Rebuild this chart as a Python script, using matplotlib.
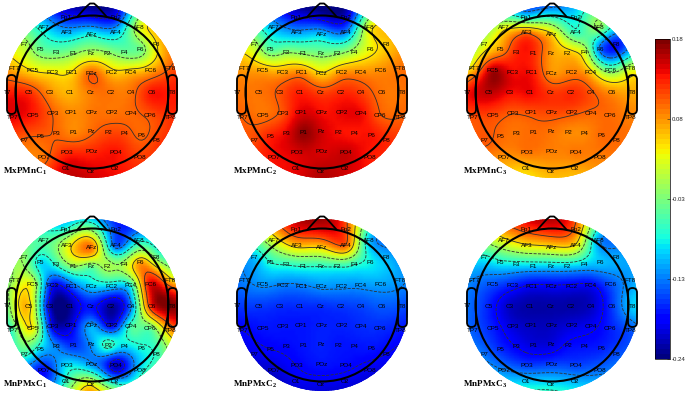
import matplotlib
matplotlib.use('Agg')
import matplotlib.pyplot as plt
import numpy as np
from matplotlib.patches import Circle, FancyBboxPatch

plt.rcParams['font.family'] = ['Liberation Sans', 'DejaVu Sans']
plt.rcParams['mathtext.fontset'] = 'custom'
plt.rcParams['mathtext.bf'] = 'Liberation Serif:bold'

W, H = 685, 398

names = ['Fp1', 'Fp2',
         'AF7', 'AF3', 'AFz', 'AF4', 'AF8',
         'F7', 'F5', 'F3', 'F1', 'Fz', 'F2', 'F4', 'F6', 'F8',
         'FT7', 'FC5', 'FC3', 'FC1', 'FCz', 'FC2', 'FC4', 'FC6', 'FT8',
         'T7', 'C5', 'C3', 'C1', 'Cz', 'C2', 'C4', 'C6', 'T8',
         'TP7', 'CP5', 'CP3', 'CP1', 'CPz', 'CP2', 'CP4', 'CP6', 'TP8',
         'P7', 'P5', 'P3', 'P1', 'Pz', 'P2', 'P4', 'P6', 'P8',
         'PO7', 'PO3', 'POz', 'PO4', 'PO8',
         'O1', 'Oz', 'O2']

# electrode montage, thirds of a pixel from the head centre
elec_x = np.array([-77, 71,
                   -144, -77, -2, 73, 141,
                   -202, -156, -107, -57, -3, 46, 97, 146, 193,
                   -235, -177, -119, -60, -1, 58, 117, 175, 233,
                   -252, -189, -128, -67, -5, 56, 117, 180, 241,
                   -237, -177, -119, -62, -1, 58, 117, 175, 235,
                   -202, -156, -107, -57, -3, 48, 97, 147, 193,
                   -144, -77, 0, 73, 143,
                   -79, -5, 68]) / 3
elec_y = np.array([225, 225,
                   193, 178, 173, 178, 193,
                   142, 127, 120, 115, 115, 115, 120, 127, 142,
                   72, 63, 59, 57, 55, 57, 59, 63, 72,
                   -1, -3, -3, -3, -3, -3, -3, -3, -3,
                   -77, -70, -65, -62, -62, -62, -65, -70, -77,
                   -147, -133, -125, -121, -119, -121, -125, -131, -147,
                   -197, -182, -178, -182, -197,
                   -230, -238, -230]) / 3

mx_c1 = [-0.18, -0.19,
         -0.09, -0.11, -0.08, -0.10, 0.02,
         0.0, -0.04, -0.04, -0.02, 0.0, -0.01, -0.04, -0.04, 0.04,
         0.06, 0.042, 0.04, 0.045, 0.105, 0.055, 0.06, 0.07, 0.10,
         0.13, 0.125, 0.08, 0.06, 0.085, 0.09, 0.09, 0.135, 0.13,
         0.14, 0.13, 0.10, 0.08, 0.09, 0.09, 0.095, 0.105, 0.12,
         0.095, 0.10, 0.098, 0.08, 0.095, 0.11, 0.11, 0.095, 0.115,
         0.09, 0.125, 0.125, 0.135, 0.115,
         0.15, 0.145, 0.135]
mx_c2 = [-0.19, -0.21,
         -0.11, -0.12, -0.10, -0.13, 0.03,
         0.0, -0.05, -0.02, -0.02, -0.03, -0.02, 0.0, 0.03, 0.05,
         0.07, 0.07, 0.07, 0.085, 0.045, 0.08, 0.08, 0.08, 0.09,
         0.09, 0.09, 0.105, 0.13, 0.115, 0.125, 0.115, 0.09, 0.09,
         0.10, 0.09, 0.105, 0.145, 0.135, 0.14, 0.14, 0.10, 0.10,
         0.11, 0.13, 0.14, 0.175, 0.15, 0.135, 0.13, 0.135, 0.125,
         0.135, 0.145, 0.145, 0.155, 0.13,
         0.14, 0.16, 0.15]
mx_c3 = [-0.09, -0.09,
         0.03, 0.10, 0.05, -0.07, -0.01,
         0.02, 0.07, 0.125, 0.125, 0.07, 0.06, 0.02, -0.15, -0.19,
         0.05, 0.17, 0.135, 0.135, 0.075, 0.085, 0.055, -0.03, 0.01,
         0.135, 0.155, 0.135, 0.14, 0.12, 0.125, 0.105, 0.08, 0.065,
         0.105, 0.11, 0.10, 0.105, 0.11, 0.105, 0.095, 0.095, 0.085,
         0.105, 0.095, 0.09, 0.095, 0.09, 0.08, 0.08, 0.095, 0.095,
         0.075, 0.09, 0.085, 0.09, 0.085,
         0.05, 0.065, 0.065]
mn_c1 = [-0.07, -0.16,
         -0.05, 0.02, 0.10, -0.16, -0.08,
         -0.02, -0.10, -0.07, -0.02, -0.05, 0.0, 0.0, 0.08, -0.03,
         -0.01, 0.02, -0.19, -0.15, -0.10, -0.10, -0.08, 0.15, 0.06,
         -0.03, 0.06, -0.21, -0.23, -0.18, -0.23, -0.14, 0.14, 0.18,
         -0.06, 0.04, -0.20, -0.20, -0.11, -0.20, -0.05, -0.05, 0.07,
         -0.06, -0.10, -0.13, -0.17, -0.13, -0.05, -0.10, -0.08, -0.07,
         -0.19, -0.09, -0.13, -0.23, -0.09,
         -0.07, 0.04, -0.09]
mn_c2 = [0.13, 0.11,
         0.02, 0.055, 0.045, 0.10, -0.11,
         -0.11, -0.075, -0.075, -0.075, -0.075, -0.075, -0.075, -0.085, -0.11,
         -0.135, -0.125, -0.135, -0.135, -0.125, -0.125, -0.125, -0.12, -0.125,
         -0.165, -0.165, -0.17, -0.17, -0.17, -0.165, -0.16, -0.15, -0.155,
         -0.19, -0.18, -0.18, -0.18, -0.175, -0.175, -0.17, -0.17, -0.18,
         -0.20, -0.19, -0.185, -0.18, -0.175, -0.18, -0.18, -0.18, -0.19,
         -0.21, -0.19, -0.18, -0.185, -0.20,
         -0.20, -0.20, -0.20]
mn_c3 = [0.11, 0.09,
         0.03, 0.035, 0.035, 0.035, -0.13,
         -0.085, -0.085, -0.095, -0.105, -0.105, -0.105, -0.105, -0.105, -0.115,
         -0.135, -0.155, -0.175, -0.195, -0.195, -0.195, -0.195, -0.155, -0.125,
         -0.14, -0.175, -0.215, -0.225, -0.225, -0.225, -0.215, -0.165, -0.10,
         -0.15, -0.175, -0.205, -0.215, -0.215, -0.205, -0.195, -0.175, -0.155,
         -0.14, -0.17, -0.19, -0.205, -0.205, -0.185, -0.18, -0.175, -0.155,
         -0.13, -0.16, -0.16, -0.16, -0.14,
         -0.10, -0.09, -0.11]

titles = ['MxPMnC', 'MxPMnC', 'MxPMnC', 'MnPMxC', 'MnPMxC', 'MnPMxC']
subs = ['1', '2', '3', '1', '2', '3']
panels = [mx_c1, mx_c2, mx_c3, mn_c1, mn_c2, mn_c3]
centres = [(92, 92), (322, 92), (552, 92), (92, 305), (322, 305), (552, 305)]

vmin, vmax = -0.24, 0.18
cbar_ticks = np.linspace(vmin, vmax, 5)
cbar_labels = ['-0.24', '-0.13', '-0.03', '0.08', '0.18']
contour_levels = [-0.19, -0.132, -0.074, -0.016, 0.042, 0.10]


def smooth_map(x, y, v, xi, yi):
    # thin plate spline with a linear term so the rim does not run away
    n = len(x)
    d = np.hypot(x[:, None] - x[None, :], y[:, None] - y[None, :])
    k = np.where(d > 0, d ** 2 * np.log(d + (d == 0)), 0.0)
    k = k + np.eye(n) * 20.0
    p = np.column_stack([np.ones(n), x, y])
    a = np.block([[k, p], [p.T, np.zeros((3, 3))]])
    sol = np.linalg.solve(a, np.concatenate([v, np.zeros(3)]))
    r = np.hypot(xi[..., None] - x, yi[..., None] - y)
    gi = np.where(r > 0, r ** 2 * np.log(r + (r == 0)), 0.0)
    return (gi * sol[:n]).sum(axis=-1) + sol[n] + sol[n + 1] * xi + sol[n + 2] * yi


fig = plt.figure(figsize=(W / 100, H / 100), dpi=100)
gx = np.linspace(-87, 87, 67)
xi, yi = np.meshgrid(gx, gx)

for vals, (cx, cy), title, sub in zip(panels, centres, titles, subs):
    half = 95
    ax = fig.add_axes([(cx - half) / W, 1 - (cy + half) / H, 2 * half / W, 2 * half / H])
    ax.set_xlim(-half, half)
    ax.set_ylim(-half, half)
    ax.axis('off')

    zi = smooth_map(elec_x, elec_y, np.array(vals), xi, yi)
    disc = Circle((0, 0), 86, transform=ax.transData)
    mesh = ax.pcolormesh(xi, yi, zi, cmap='jet', vmin=vmin, vmax=vmax, shading='gouraud')
    mesh.set_clip_path(disc)
    cs = ax.contour(xi, yi, zi, levels=contour_levels, colors='#303030', linewidths=0.6)
    cs.set_clip_path(disc)

    ax.add_patch(Circle((0, 0), 76.5, fill=False, ec='black', lw=1.5, zorder=5))
    ax.plot([-14, -5, -2, 2, 5, 14], [76, 86, 88.5, 88.5, 86, 76], color='black', lw=1.3, zorder=5)
    for left in (-85, 76):
        ax.add_patch(FancyBboxPatch((left, -22), 9, 39, boxstyle='round,pad=0,rounding_size=4.5',
                                    fill=False, ec='black', lw=1.3, zorder=5))

    for name, ex, ey in zip(names, elec_x, elec_y):
        ax.text(ex, ey, name, fontsize=4.6, ha='center', va='center', color='black', zorder=6)

    ax.text(-89, -79, r'%s$_{\mathbf{%s}}$' % (title, sub), fontsize=6.6, family='Liberation Serif',
            fontweight='bold', ha='left', va='center', color='black', zorder=7, clip_on=False)

cax = fig.add_axes([655 / W, 1 - 359 / H, 15 / W, 320 / H])
sm = plt.cm.ScalarMappable(cmap=plt.get_cmap('jet', 64), norm=plt.Normalize(vmin, vmax))
cb = fig.colorbar(sm, cax=cax)
cb.set_ticks(cbar_ticks)
cb.set_ticklabels(cbar_labels)
cb.ax.tick_params(labelsize=4.3, length=2, width=0.4, direction='in', pad=1, colors='#222222')
cb.outline.set_linewidth(0.5)

plt.savefig('out.png', dpi=100)
